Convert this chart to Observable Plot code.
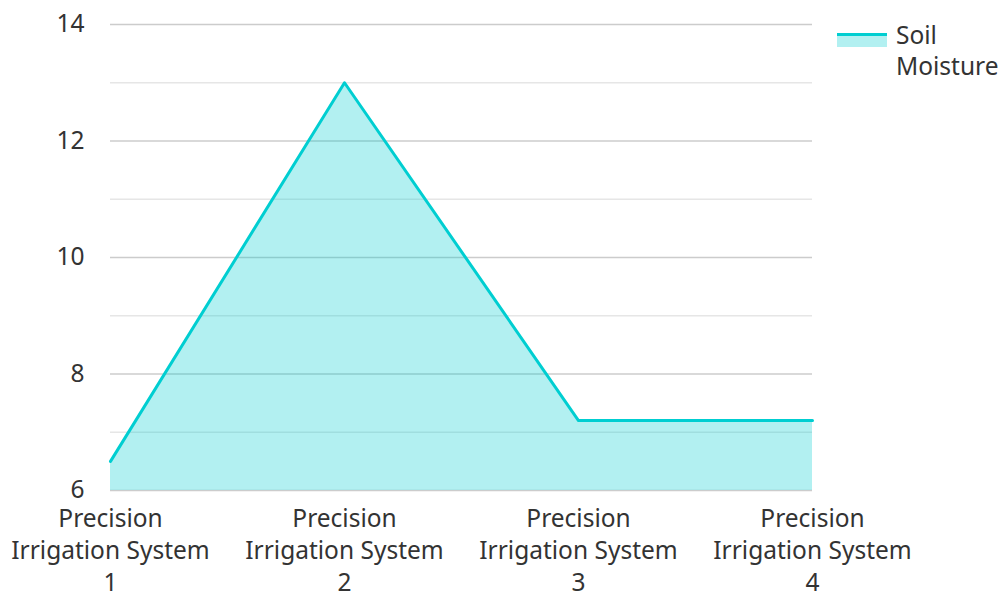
<!DOCTYPE html>
<html><head><meta charset="utf-8">
<script src="https://cdn.jsdelivr.net/npm/d3@7"></script>
<script src="https://cdn.jsdelivr.net/npm/@observablehq/plot@0.6"></script>
<style>
body{margin:0;background:#fff;font-family:"Noto Sans",sans-serif;}
#wrap{position:relative;width:1002px;height:594px;}
#legend{position:absolute;left:837px;top:19px;display:flex;align-items:flex-start;color:#333;font-size:24.5px;line-height:31px;}
#sw{width:50px;height:14px;margin-top:14px;border-top:3px solid #00CED1;background:rgba(0,206,209,0.3);box-sizing:border-box;}
#lt{margin-left:9px;}
</style></head><body>
<div id="wrap"><div id="legend"><div id="sw"></div><div id="lt">Soil<br>Moisture</div></div></div>
<script>
const categories = ["Precision Irrigation System 1","Precision Irrigation System 2","Precision Irrigation System 3","Precision Irrigation System 4"];
const soilMoisture = [6.5, 13, 7.2, 7.2];
const majorTicks = [6, 8, 10, 12, 14];
const minorTicks = [7, 9, 11, 13];
const seriesName = "Soil Moisture";

const data = categories.map((c, i) => ({cat: c, v: soilMoisture[i]}));
const fmt = c => { const m = c.match(/^(\S+) (.+) (\S+)$/); return m[1] + "\n" + m[2] + "\n" + m[3]; };

const chart = Plot.plot({
  width: 1002, height: 594,
  marginLeft: 110, marginRight: 190, marginTop: 24, marginBottom: 104,
  style: {fontFamily: "Noto Sans", fontSize: "24.5px", color: "#333", background: "transparent"},
  x: {type: "point", domain: categories, padding: 0},
  y: {domain: [6, 14]},
  marks: [
    Plot.ruleY(minorTicks, {stroke: "#e6e6e6", strokeWidth: 1.5}),
    Plot.ruleY(majorTicks, {stroke: "#cccccc", strokeWidth: 1.5}),
    Plot.areaY(data, {x: "cat", y1: 6, y2: "v", fill: "#00CED1", fillOpacity: 0.3}),
    Plot.lineY(data, {x: "cat", y: "v", stroke: "#00CED1", strokeWidth: 3}),
    Plot.axisY({ticks: majorTicks, tickSize: 0, tickPadding: 26, fontSize: 24.5, fill: "#333", label: null}),
    Plot.axisX({tickSize: 0, tickPadding: 14, tickFormat: fmt, lineHeight: 1.306, fontSize: 24.5, fill: "#333", label: null})
  ]
});
document.getElementById("wrap").prepend(chart);
</script>
</body></html>
